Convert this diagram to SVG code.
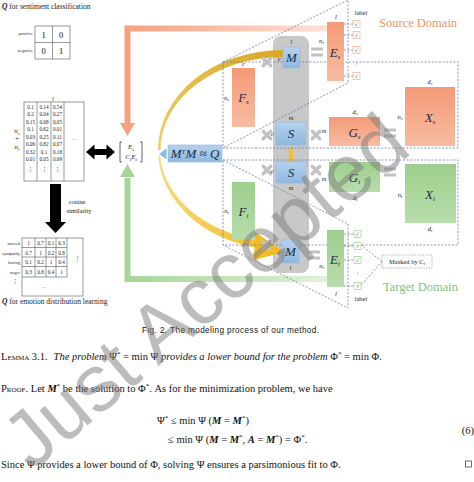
<svg xmlns="http://www.w3.org/2000/svg" width="474" height="482" viewBox="0 0 474 482">
<defs>
<linearGradient id="gBlue" x1="0" y1="0" x2="0" y2="1"><stop offset="0" stop-color="#b5d2ee"/><stop offset="1" stop-color="#8fb8e0"/></linearGradient>
<linearGradient id="gOr" x1="0" y1="0" x2="0" y2="1"><stop offset="0" stop-color="#f49a77"/><stop offset="1" stop-color="#f8bca1"/></linearGradient>
<linearGradient id="gGr" x1="0" y1="0" x2="0" y2="1"><stop offset="0" stop-color="#9dcf8d"/><stop offset="1" stop-color="#b8ddac"/></linearGradient>
<linearGradient id="gOrLine" gradientUnits="userSpaceOnUse" x1="124" y1="0" x2="330" y2="0"><stop offset="0" stop-color="#f5a07d"/><stop offset="1" stop-color="#fce3d8"/></linearGradient>
<linearGradient id="gGrLine" gradientUnits="userSpaceOnUse" x1="124" y1="0" x2="330" y2="0"><stop offset="0" stop-color="#a6d597"/><stop offset="1" stop-color="#e0f1da"/></linearGradient>
<linearGradient id="gGold" gradientUnits="userSpaceOnUse" x1="283" y1="50" x2="160" y2="150"><stop offset="0" stop-color="#d8a722"/><stop offset="1" stop-color="#f0cd6a"/></linearGradient>
<linearGradient id="gGold2" gradientUnits="userSpaceOnUse" x1="160" y1="155" x2="283" y2="252"><stop offset="0" stop-color="#f8dd85"/><stop offset="1" stop-color="#f2bb22"/></linearGradient>
<g id="cross"><path d="M-3.8,-3.8 L3.8,3.8 M3.8,-3.8 L-3.8,3.8" stroke="#c2c2c2" stroke-width="3.4" stroke-linecap="round"/></g>
<g id="eqs"><rect x="-6" y="-4.5" width="12" height="3" fill="#c2c2c2"/><rect x="-6" y="1.5" width="12" height="3" fill="#c2c2c2"/></g>
<style>
.lbl{font-family:"Liberation Serif","DejaVu Serif",serif;font-style:italic;font-size:13px;fill:#1c2c44;text-anchor:middle}
.sm{font-family:"Liberation Serif","DejaVu Serif",serif;font-style:italic;font-size:6.5px;fill:#222;text-anchor:middle}
.dot{fill:none;stroke:#6d7ca6;stroke-width:0.8;stroke-dasharray:2 1.6}
.blue{fill:url(#gBlue);stroke:#94b7dc;stroke-width:0.6}
.or{fill:url(#gOr)}
.gr{fill:url(#gGr)}
.mat{font-family:"Liberation Serif","DejaVu Serif",serif;font-size:5.2px;text-anchor:middle;fill:#222}
.rl{font-family:"Liberation Serif","DejaVu Serif",serif;font-size:4.6px;text-anchor:end;fill:#333}
.grid{fill:none;stroke:#555;stroke-width:0.6}
.body{font-family:"Liberation Serif","DejaVu Serif",serif;font-size:10.5px;fill:#111}
.cap{font-family:"Liberation Sans","DejaVu Sans",sans-serif;font-size:8.2px;fill:#111}
.lbs{fill:#fff;stroke:#f0a07e;stroke-width:0.6}
.lbt{fill:#fff;stroke:#8dc77f;stroke-width:0.6}
.tick{font-family:"DejaVu Sans",sans-serif;font-size:4.5px;text-anchor:middle;fill:#333}
</style>
</defs>
<rect width="474" height="482" fill="#fff"/>

<!-- left panel -->
<g id="q-sentiment">
<text x="2" y="9" style="font-family:'Liberation Serif',serif;font-size:7.5px;fill:#222"><tspan font-style="italic" font-weight="bold">Q</tspan> for sentiment classification</text>
<rect x="35" y="26" width="35" height="33" class="grid" stroke-width="0.8"/>
<path d="M52.5,26 V59 M35,42.5 H70" class="grid" stroke-width="0.8"/>
<text class="rl" x="33" y="35">positive</text>
<text class="rl" x="33" y="52">negative</text>
<g style="font-family:'Liberation Serif',serif;font-size:8.5px;text-anchor:middle;fill:#111">
<text x="43.7" y="37.5">1</text><text x="61.2" y="37.5">0</text>
<text x="43.7" y="54">0</text><text x="61.2" y="54">1</text>
</g>
</g>

<g id="feature-matrix">
<text class="sm" x="53" y="101">l</text>
<rect x="24" y="102" width="60" height="79" class="grid"/>
<path d="M37,102 V181 M51,102 V181 M64,102 V181" class="grid"/>
<g class="mat">
<text y="108.5"><tspan x="30.5">0.1</tspan><tspan x="44">0.14</tspan><tspan x="57.5">0.54</tspan></text>
<text y="116"><tspan x="30.5">0.2</tspan><tspan x="44">0.04</tspan><tspan x="57.5">0.27</tspan></text>
<text y="123.5"><tspan x="30.5">0.15</tspan><tspan x="44">0.08</tspan><tspan x="57.5">0.05</tspan></text>
<text y="131"><tspan x="30.5">0.1</tspan><tspan x="44">0.62</tspan><tspan x="57.5">0.01</tspan></text>
<text y="138.5"><tspan x="30.5">0.03</tspan><tspan x="44">0.25</tspan><tspan x="57.5">0.11</tspan></text>
<text y="146"><tspan x="30.5">0.06</tspan><tspan x="44">0.82</tspan><tspan x="57.5">0.07</tspan></text>
<text y="153.5"><tspan x="30.5">0.32</tspan><tspan x="44">0.1</tspan><tspan x="57.5">0.18</tspan></text>
<text y="161"><tspan x="30.5">0.01</tspan><tspan x="44">0.05</tspan><tspan x="57.5">0.69</tspan></text>
<text y="171"><tspan x="30.5">⋮</tspan><tspan x="44">⋮</tspan><tspan x="57.5">⋮</tspan></text>
<text y="140" x="74" fill="#888">…</text>
</g>
<g style="font-family:'Liberation Serif',serif;font-size:7px;font-style:italic;fill:#222;text-anchor:middle">
<text x="17" y="133">n<tspan font-size="4.5" dy="1.5">s</tspan></text>
<text x="17" y="141" font-style="normal">+</text>
<text x="17" y="149">n<tspan font-size="4.5" dy="1.5">t</tspan></text>
</g>
</g>

<g id="double-arrow">
<polygon points="86,152 94.5,144.5 94.5,149 106.5,149 106.5,144.5 115,152 106.5,159.5 106.5,155 94.5,155 94.5,159.5" fill="#000"/>
</g>

<g id="label-stack">
<path d="M122,142 H120 V162 H122 M140,142 H142 V162 H140" fill="none" stroke="#222" stroke-width="0.7"/>
<g style="font-family:'Liberation Serif',serif;font-size:7px;font-style:italic;fill:#222;text-anchor:middle">
<text x="131" y="149">E<tspan font-size="4.5" dy="1.5">s</tspan></text>
<text x="131" y="159">C<tspan font-size="4.5" dy="1.5">t</tspan><tspan dy="-1.5">E</tspan><tspan font-size="4.5" dy="1.5">t</tspan></text>
</g>
</g>

<g id="cosine-arrow">
<polygon points="50,184 61,184 61,222 66,222 55.5,233 45,222 50,222" fill="#000"/>
<g style="font-family:'Liberation Serif',serif;font-size:6.5px;fill:#222;text-anchor:middle">
<text x="77" y="204">cosine</text>
<text x="79" y="213">similarity</text>
</g>
</g>

<g id="q-emotion">
<rect x="22" y="238" width="61" height="58" class="grid"/>
<path d="M35,238 V277 M46,238 V277 M56,238 V277 M67,238 V277 M22,247.5 H67 M22,257 H67 M22,266.5 H67 M22,277 H67" class="grid"/>
<text class="rl" x="20" y="245">moved</text>
<text class="rl" x="20" y="254.5">sympathy</text>
<text class="rl" x="20" y="264">boring</text>
<text class="rl" x="20" y="273.5">anger</text>
<text class="rl" x="18" y="283">⋮</text>
<g class="mat" font-size="5.6">
<text y="245"><tspan x="28.5">1</tspan><tspan x="40.5">0.7</tspan><tspan x="51">0.1</tspan><tspan x="61.5">0.3</tspan></text>
<text y="254.5"><tspan x="28.5">0.7</tspan><tspan x="40.5">1</tspan><tspan x="51">0.2</tspan><tspan x="61.5">0.8</tspan></text>
<text y="264"><tspan x="28.5">0.1</tspan><tspan x="40.5">0.2</tspan><tspan x="51">1</tspan><tspan x="61.5">0.4</tspan></text>
<text y="273.5"><tspan x="28.5">0.3</tspan><tspan x="40.5">0.8</tspan><tspan x="51">0.4</tspan><tspan x="61.5">1</tspan></text>
<text x="77" y="260">⋮</text>
<text x="44" y="288" fill="#888">…</text>
</g>
<text x="2" y="304" style="font-family:'Liberation Serif',serif;font-size:7.5px;fill:#222"><tspan font-style="italic" font-weight="bold">Q</tspan> for emotion distribution learning</text>
</g>

<!-- main diagram -->
<g id="gray-band"><rect x="273" y="36" width="36" height="237" rx="8" fill="#c8c8c8"/></g>

<g id="connectors">
<path d="M127.5,124 V28.5 H327" fill="none" stroke="url(#gOrLine)" stroke-width="6"/>
<polygon points="120,123 135,123 127.5,136" fill="#f6a27f"/>
<path d="M127.5,178 V279 H330" fill="none" stroke="url(#gGrLine)" stroke-width="6"/>
<polygon points="120,177 135,177 127.5,164" fill="#a6d597"/>
<path d="M283,50 A125,100 0 0 0 158,150 L160.5,150 A122.5,93 0 0 1 283,57 Z" fill="url(#gGold)"/>
<path d="M158.2,156 A125,100 0 0 0 257,247.8 L257,239.9 A123,92 0 0 1 160.2,156 Z" fill="url(#gGold2)"/>
<polygon points="255,232 284,252 254,260" fill="#f2bb22"/>
<polygon points="288,152 291,146 294,152 293,152 293,161 289,161 289,152" fill="#f2c030"/>
<polygon points="159,154 166.5,148.5 166.5,159.5" fill="#8fb8e0"/>
<!-- dotted projection frames -->
<rect x="223" y="62" width="235" height="86" class="dot"/>
<path d="M223,62 L348,0 V83 L223,148" class="dot"/>
<rect x="223" y="160" width="235" height="85" class="dot"/>
<path d="M223,160 L348,224 V308 L223,245" class="dot"/>
<path d="M382,261.5 L361,245 M382,261.5 L361,285.5" class="dot"/>
<path d="M344,24 H353 M344,35 H353 M344,50 H353 M344,76 H353" class="dot"/>
<path d="M344,234 H354 M344,246 H354 M344,260 H354 M344,286 H354" class="dot"/>
</g>

<g id="operators">
<use href="#cross" x="267" y="62"/>
<use href="#cross" x="267" y="135"/>
<use href="#cross" x="316" y="135"/>
<use href="#cross" x="267" y="170"/>
<use href="#cross" x="316" y="170"/>
<use href="#cross" x="266" y="245"/>
<use href="#eqs" x="317" y="52"/>
<use href="#eqs" x="390" y="133"/>
<use href="#eqs" x="390" y="172"/>
<use href="#eqs" x="314" y="255"/>
</g>

<g id="M-source">
<rect x="283" y="47" width="17" height="21" class="blue"/>
<text class="lbl" x="291.5" y="62">M</text>
<text class="sm" x="291.5" y="44">l</text>
<text class="sm" x="279.5" y="61">c</text>
</g>
<g id="S-source">
<rect x="276" y="122" width="30" height="23" class="blue"/>
<text class="lbl" x="291" y="138">S</text>
<text class="sm" x="291" y="120">m</text>
<text class="sm" x="272.5" y="136">c</text>
</g>
<g id="S-target">
<rect x="276" y="162" width="30" height="21" class="blue"/>
<text class="lbl" x="291" y="177">S</text>
<text class="sm" x="291" y="190">m</text>
<text class="sm" x="272.5" y="173">c</text>
</g>
<g id="M-target">
<rect x="282" y="240" width="17" height="23" class="blue"/>
<text class="lbl" x="290.5" y="256">M</text>
<text class="sm" x="290.5" y="270">l</text>
<text class="sm" x="279" y="255">c</text>
</g>
<g id="MtM">
<rect x="168" y="145" width="54" height="17" class="blue"/>
<text class="lbl" x="195" y="158" font-size="11">M<tspan font-size="7" dy="-4">T</tspan><tspan dy="4">M ≈ Q</tspan></text>
</g>

<g id="Fs">
<rect x="232" y="68" width="23" height="59" class="or"/>
<text class="lbl" x="243.5" y="102">F<tspan font-size="7" dy="2">s</tspan></text>
<text class="sm" x="243.5" y="66">c</text>
<text class="sm" x="226.5" y="100">n<tspan font-size="4.5" dy="1.2">s</tspan></text>
</g>
<g id="Ft">
<rect x="232" y="182" width="23" height="58" class="gr"/>
<text class="lbl" x="243.5" y="216">F<tspan font-size="7" dy="2">t</tspan></text>
<text class="sm" x="243.5" y="247">c</text>
<text class="sm" x="226.5" y="213">n<tspan font-size="4.5" dy="1.2">t</tspan></text>
</g>
<g id="Es">
<rect x="327" y="22" width="17" height="59" class="or"/>
<text class="lbl" x="335" y="57">E<tspan font-size="7" dy="2">s</tspan></text>
<text class="sm" x="336" y="19">l</text>
<text class="sm" x="321.5" y="43">n<tspan font-size="4.5" dy="1.2">s</tspan></text>
</g>
<g id="Et">
<rect x="327" y="230" width="17" height="57" class="gr"/>
<text class="lbl" x="335" y="264">E<tspan font-size="7" dy="2">t</tspan></text>
<text class="sm" x="336" y="296">l</text>
<text class="sm" x="321.5" y="268">n<tspan font-size="4.5" dy="1.2">t</tspan></text>
</g>
<g id="Gs">
<rect x="329" y="117" width="51" height="29" class="or"/>
<text class="lbl" x="354.5" y="137">G<tspan font-size="7" dy="2">s</tspan></text>
<text class="sm" x="355" y="114">d<tspan font-size="4.5" dy="1.2">s</tspan></text>
<text class="sm" x="324" y="133">m</text>
</g>
<g id="Xs">
<rect x="405" y="87" width="50" height="59" class="or"/>
<text class="lbl" x="430" y="122">X<tspan font-size="7" dy="2">s</tspan></text>
<text class="sm" x="430" y="84">d<tspan font-size="4.5" dy="1.2">s</tspan></text>
<text class="sm" x="400" y="119">n<tspan font-size="4.5" dy="1.2">s</tspan></text>
</g>
<g id="Gt">
<rect x="329" y="162" width="51" height="30" class="gr"/>
<text class="lbl" x="354.5" y="182">G<tspan font-size="7" dy="2">t</tspan></text>
<text class="sm" x="355" y="200">d<tspan font-size="4.5" dy="1.2">t</tspan></text>
<text class="sm" x="324" y="181">m</text>
</g>
<g id="Xt">
<rect x="405" y="164" width="51" height="59" class="gr"/>
<text class="lbl" x="430" y="199">X<tspan font-size="7" dy="2">t</tspan></text>
<text class="sm" x="430" y="231">d<tspan font-size="4.5" dy="1.2">t</tspan></text>
<text class="sm" x="400" y="197">n<tspan font-size="4.5" dy="1.2">t</tspan></text>
</g>

<g id="source-labels">
<text x="361" y="15" style="font-family:'Liberation Serif',serif;font-size:6.5px;fill:#222;text-anchor:middle">label</text>
<rect x="353" y="20.5" width="7" height="7" class="lbs"/><text class="tick" x="356.5" y="26">√</text>
<rect x="353" y="31.5" width="7" height="7" class="lbs"/><text class="tick" x="356.5" y="37">√</text>
<rect x="353" y="46.5" width="7" height="7" class="lbs"/><text class="tick" x="356.5" y="52">√</text>
<text class="tick" x="356.5" y="65" font-size="6">⋮</text>
<rect x="353" y="72.5" width="7" height="7" class="lbs"/><text class="tick" x="356.5" y="78">√</text>
<text x="379" y="27" style="font-family:'Liberation Serif',serif;font-size:12.5px;fill:#e8956a">Source Domain</text>
</g>
<g id="target-labels">
<rect x="354" y="230.5" width="7" height="7" class="lbt"/><text class="tick" x="357.5" y="236">√</text>
<rect x="354" y="242.5" width="7" height="7" class="lbt"/><text class="tick" x="357.5" y="248">?</text>
<rect x="354" y="256.5" width="7" height="7" class="lbt"/><text class="tick" x="357.5" y="262">√</text>
<text class="tick" x="357.5" y="274" font-size="6">⋮</text>
<rect x="354" y="282.5" width="7" height="7" class="lbt"/><text class="tick" x="357.5" y="288">?</text>
<text x="361" y="301" style="font-family:'Liberation Serif',serif;font-size:6.5px;fill:#222;text-anchor:middle">label</text>
<rect x="382" y="255" width="50" height="13" fill="#fff" stroke="#888" stroke-width="0.6" stroke-dasharray="1.5 1.2"/>
<text x="407" y="264" style="font-family:'Liberation Serif',serif;font-size:6.5px;fill:#222;text-anchor:middle">Masked by C<tspan font-size="4.5" dy="1.2">t</tspan></text>
<text x="383" y="291" style="font-family:'Liberation Serif',serif;font-size:12.5px;fill:#86c178">Target Domain</text>
</g>

<!-- page text -->
<g id="page-text">
<text class="cap" x="142" y="333" textLength="177">Fig. 2.  The modeling process of our method.</text>
<text class="body" x="1" y="360"><tspan font-variant="small-caps">Lemma 3.1.</tspan><tspan dx="6" font-style="italic">The problem </tspan><tspan>Ψ</tspan><tspan font-size="7" dy="-4">*</tspan><tspan dy="4"> = min Ψ </tspan><tspan font-style="italic">provides a lower bound for the problem </tspan><tspan>Φ</tspan><tspan font-size="7" dy="-4">*</tspan><tspan dy="4"> = min Φ.</tspan></text>
<text class="body" x="1" y="392"><tspan font-variant="small-caps">Proof.</tspan><tspan> Let </tspan><tspan font-weight="bold" font-style="italic">M</tspan><tspan font-size="7" dy="-4">*</tspan><tspan dy="4"> be the solution to Φ</tspan><tspan font-size="7" dy="-4">*</tspan><tspan dy="4">. As for the minimization problem, we have</tspan></text>
<text class="body" x="157" y="424">Ψ<tspan font-size="7" dy="-4">*</tspan><tspan dy="4"> ≤ min Ψ (</tspan><tspan font-weight="bold" font-style="italic">M</tspan> = <tspan font-weight="bold" font-style="italic">M</tspan><tspan font-size="7" dy="-4">*</tspan><tspan dy="4">)</tspan></text>
<text class="body" x="168" y="443">≤ min Ψ (<tspan font-weight="bold" font-style="italic">M</tspan> = <tspan font-weight="bold" font-style="italic">M</tspan><tspan font-size="7" dy="-4">*</tspan><tspan dy="4">, </tspan><tspan font-weight="bold" font-style="italic">A</tspan> = <tspan font-weight="bold" font-style="italic">M</tspan><tspan font-size="7" dy="-4">*</tspan><tspan dy="4">) = Φ</tspan><tspan font-size="7" dy="-4">*</tspan><tspan dy="4">.</tspan></text>
<text class="body" x="474" y="434" text-anchor="end">(6)</text>
<text class="body" x="1" y="468">Since Ψ provides a lower bound of Φ, solving Ψ ensures a parsimonious fit to Φ.</text>
<rect x="465.5" y="461" width="6" height="6" fill="none" stroke="#333" stroke-width="0.7"/>
</g>

<g id="watermark">
<text transform="translate(32,472) rotate(-40)" style="font-family:'Liberation Sans','DejaVu Sans',sans-serif;font-size:80px;fill:#7a7a7a;fill-opacity:0.5">Just Accepted</text>
</g>
</svg>
